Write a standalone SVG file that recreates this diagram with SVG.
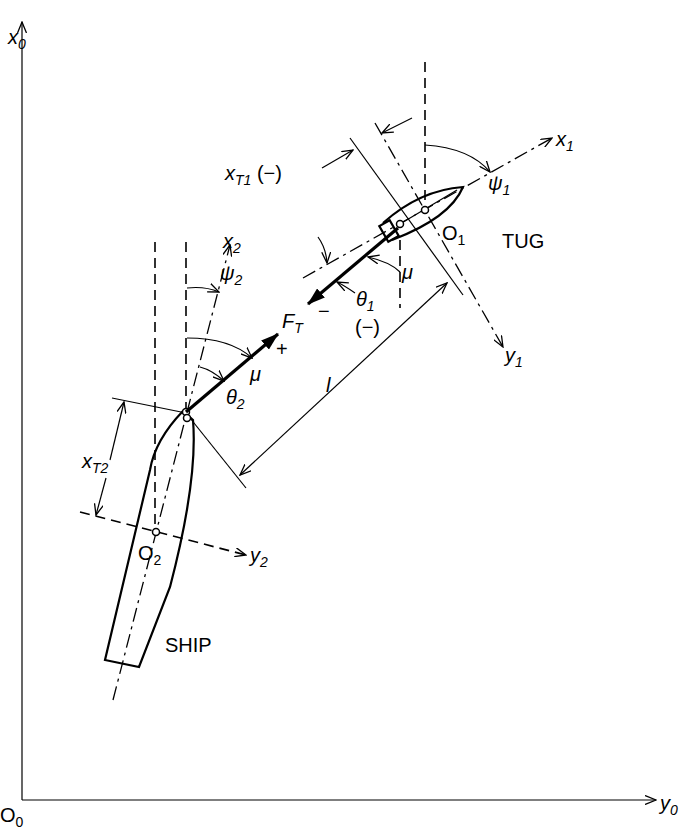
<svg xmlns="http://www.w3.org/2000/svg" width="685" height="831" viewBox="0 0 685 831">
<defs>
<marker id="oa" viewBox="0 0 12 10" refX="11" refY="5" markerWidth="12" markerHeight="10" markerUnits="userSpaceOnUse" orient="auto-start-reverse"><path d="M0,0.5 L11,5 L0,9.5" fill="none" stroke="#000" stroke-width="1.3"/></marker>
<marker id="fa" viewBox="0 0 18 12" refX="17" refY="6" markerWidth="18" markerHeight="12" markerUnits="userSpaceOnUse" orient="auto"><path d="M0,0 L18,6 L0,12 Z" fill="#000"/></marker>
</defs>
<style>
.t{stroke:#000;stroke-width:1.2;fill:none}
.h{stroke:#000;stroke-width:2.2;fill:none}
.d{stroke:#000;stroke-width:1.6;fill:none;stroke-dasharray:10 6}
.dd{stroke:#000;stroke-width:1.3;fill:none;stroke-dasharray:14 5 3 5}
.f{stroke:#000;stroke-width:3.2;fill:none}
text{font-family:"Liberation Sans",Arial,sans-serif;font-size:20px;fill:#000}
.i{font-style:italic}
.s{font-size:14px}
</style>
<g id="axes">
<line class="t" x1="22" y1="800" x2="22" y2="22" marker-end="url(#oa)"/>
<line class="t" x1="22" y1="800" x2="656" y2="800" marker-end="url(#oa)"/>
<text x="8" y="44" class="i">x<tspan class="s" dy="5">0</tspan></text>
<text x="660" y="810" class="i">y<tspan class="s" dy="5">0</tspan></text>
<text x="0" y="822">O<tspan class="s" dy="5">0</tspan></text>
</g>
<g id="ship">
<path class="h" d="M183,411 Q155,440 150,470 L105,660 L139,667 L170,587 Q198,480 193,420 Z"/>
<line class="d" x1="155" y1="242" x2="155" y2="530"/>
<line class="d" x1="186" y1="242" x2="186" y2="408"/>
<line class="dd" x1="113" y1="700" x2="230" y2="245" marker-end="url(#oa)"/>
<line class="d" x1="80" y1="512" x2="246" y2="555" marker-end="url(#oa)"/>
<line class="t" x1="112" y1="398" x2="186" y2="413"/>
<line class="t" x1="186" y1="413" x2="246" y2="488"/>
<circle cx="156" cy="532" r="3.5" fill="#fff" stroke="#000" stroke-width="1.5"/>
<circle cx="186" cy="412" r="3.5" fill="#fff" stroke="#000" stroke-width="1.5"/>
<circle cx="187" cy="418" r="3.5" fill="#fff" stroke="#000" stroke-width="1.5"/>
<line class="t" x1="110" y1="460" x2="124" y2="402" marker-end="url(#oa)"/>
<line class="t" x1="106" y1="478" x2="96" y2="515" marker-end="url(#oa)"/>
<path class="t" d="M187,288 Q205,286 219,292" marker-end="url(#oa)"/>
<path class="t" d="M187,338 Q230,338 252,358" marker-end="url(#oa)"/>
<path class="t" d="M200,367 Q212,370 224,381" marker-end="url(#oa)"/>
<text x="223" y="248" class="i">x<tspan class="s" dy="5">2</tspan></text>
<text x="220" y="280" class="i">ψ<tspan class="s" dy="5">2</tspan></text>
<text x="250" y="381" class="i">μ</text>
<text x="226" y="404" class="i">θ<tspan class="s" dy="5">2</tspan></text>
<text x="82" y="468" class="i">x<tspan class="s" dy="5">T2</tspan></text>
<text x="250" y="562" class="i">y<tspan class="s" dy="5">2</tspan></text>
<text x="138" y="560">O<tspan class="s" dy="5">2</tspan></text>
<text x="165" y="652">SHIP</text>
</g>
<g id="tug">
<path class="h" d="M383,223 Q420,190 463,187 Q450,218 392,240"/>
<rect class="h" x="383" y="222" width="12" height="18" transform="rotate(-30 389 231)"/>
<line class="t" x1="400" y1="224" x2="457" y2="190"/>
<line class="d" x1="425" y1="62" x2="425" y2="208"/>
<line class="d" x1="400" y1="240" x2="400" y2="308"/>
<line class="dd" x1="303" y1="278" x2="552" y2="138" marker-end="url(#oa)"/>
<line class="dd" x1="375" y1="123" x2="503" y2="347" marker-end="url(#oa)"/>
<line class="t" x1="350" y1="138" x2="463" y2="295"/>
<circle cx="425" cy="210" r="3.5" fill="#fff" stroke="#000" stroke-width="1.5"/>
<circle cx="400" cy="224" r="3.5" fill="#fff" stroke="#000" stroke-width="1.5"/>
<path class="t" d="M425,145 Q470,148 490,172" marker-end="url(#oa)"/>
<line class="t" x1="322" y1="168" x2="353" y2="150" marker-end="url(#oa)"/>
<line class="t" x1="412" y1="118" x2="382" y2="133" marker-end="url(#oa)"/>
<path class="t" d="M318,237 Q326,248 327,263" marker-end="url(#oa)"/>
<path class="t" d="M400,272 Q390,262 368,257" marker-end="url(#oa)"/>
<path class="t" d="M355,293 Q345,286 337,282" marker-end="url(#oa)"/>
<text x="556" y="146" class="i">x<tspan class="s" dy="5">1</tspan></text>
<text x="488" y="190" class="i">ψ<tspan class="s" dy="5">1</tspan></text>
<text x="442" y="240">O<tspan class="s" dy="5">1</tspan></text>
<text x="502" y="248">TUG</text>
<text x="505" y="362" class="i">y<tspan class="s" dy="5">1</tspan></text>
<text x="402" y="279" class="i">μ</text>
<text x="356" y="306" class="i">θ<tspan class="s" dy="5">1</tspan></text>
<text x="355" y="334">(−)</text>
<text x="225" y="180" class="i">x<tspan class="s" dy="5">T1</tspan><tspan dy="-5" font-style="normal"> (−)</tspan></text>
</g>
<g id="connectors">
<line class="f" x1="186" y1="412" x2="278" y2="334" marker-end="url(#fa)"/>
<line class="f" x1="398" y1="228" x2="308" y2="304" marker-end="url(#fa)"/>
<line class="t" x1="240" y1="475" x2="447" y2="283" marker-start="url(#oa)" marker-end="url(#oa)"/>
<text x="282" y="328" class="i">F<tspan class="s" dy="5">T</tspan></text>
<text x="276" y="356">+</text>
<text x="318" y="318">−</text>
<text x="326" y="392" class="i">l</text>
</g>
</svg>
